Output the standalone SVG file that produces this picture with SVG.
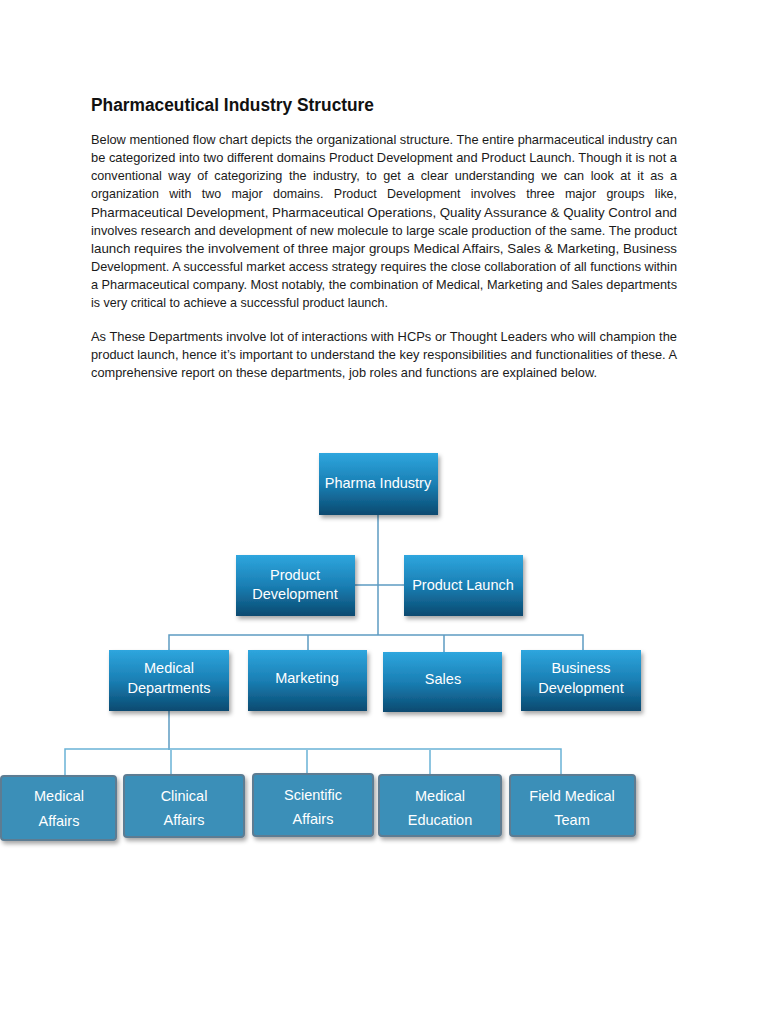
<svg xmlns="http://www.w3.org/2000/svg" width="768" height="1024" viewBox="0 0 768 1024">
<defs>
<linearGradient id="g" x1="0" y1="0" x2="0" y2="1">
<stop offset="0" stop-color="#2ea6de"/>
<stop offset="0.5" stop-color="#1a7fb4"/>
<stop offset="1" stop-color="#0a4a70"/>
</linearGradient>
<filter id="sh" x="-20%" y="-20%" width="150%" height="160%">
<feDropShadow dx="2" dy="3" stdDeviation="2" flood-color="#000" flood-opacity="0.35"/>
</filter>
</defs>
<style>
.body{font-family:"Liberation Sans",Arial,sans-serif;font-size:12.6px;fill:#1a1a1a}
.title{font-family:"Liberation Sans",Arial,sans-serif;font-size:18px;font-weight:bold;fill:#111}
.box{fill:url(#g);filter:url(#sh)}
.box2{fill:#3a8fb8;stroke:#5d7c92;stroke-width:2;filter:url(#sh)}
.lbl{font-family:"Liberation Sans",Arial,sans-serif;font-size:14.5px;fill:#fff;text-anchor:middle}
.ln{stroke:#5e9cc2;stroke-width:1.5;fill:none}
.ln2{stroke:#6ab2d6;stroke-width:1.5;fill:none}
</style>
<rect width="768" height="1024" fill="#fff"/>
<text class="title" x="91" y="111" textLength="283" lengthAdjust="spacingAndGlyphs">Pharmaceutical Industry Structure</text>
<g class="body">
<text x="91" y="144" textLength="586" lengthAdjust="spacingAndGlyphs">Below mentioned flow chart depicts the organizational structure. The entire pharmaceutical industry can</text>
<text x="91" y="162" textLength="586" lengthAdjust="spacingAndGlyphs">be categorized into two different domains Product Development and Product Launch. Though it is not a</text>
<text x="91" y="180" textLength="586" lengthAdjust="spacingAndGlyphs" word-spacing="3">conventional way of categorizing the industry, to get a clear understanding we can look at it as a</text>
<text x="91" y="198" textLength="586" lengthAdjust="spacingAndGlyphs" word-spacing="7">organization with two major domains. Product Development involves three major groups like,</text>
<text x="91" y="217" textLength="586" lengthAdjust="spacingAndGlyphs">Pharmaceutical Development, Pharmaceutical Operations, Quality Assurance &amp; Quality Control and</text>
<text x="91" y="235" textLength="586" lengthAdjust="spacingAndGlyphs">involves research and development of new molecule to large scale production of the same. The product</text>
<text x="91" y="253" textLength="586" lengthAdjust="spacingAndGlyphs">launch requires the involvement of three major groups Medical Affairs, Sales &amp; Marketing, Business</text>
<text x="91" y="271" textLength="586" lengthAdjust="spacingAndGlyphs">Development. A successful market access strategy requires the close collaboration of all functions within</text>
<text x="91" y="289" textLength="586" lengthAdjust="spacingAndGlyphs">a Pharmaceutical company. Most notably, the combination of Medical, Marketing and Sales departments</text>
<text x="91" y="307" textLength="297" lengthAdjust="spacingAndGlyphs">is very critical to achieve a successful product launch.</text>
<text x="91" y="341" textLength="586" lengthAdjust="spacingAndGlyphs">As These Departments involve lot of interactions with HCPs or Thought Leaders who will champion the</text>
<text x="91" y="359" textLength="586" lengthAdjust="spacingAndGlyphs">product launch, hence it’s important to understand the key responsibilities and functionalities of these. A</text>
<text x="91" y="377" textLength="506" lengthAdjust="spacingAndGlyphs">comprehensive report on these departments, job roles and functions are explained below.</text>
</g>
<g id="connectors">
<path class="ln" d="M378 515 V635 M355 585 H404 M169 650 V635 H583 V650 M308 635 V650 M444 635 V652 M169 711 V750"/>
<path class="ln2" d="M65 776 V749 H561 V776 M171 750 V778 M307 750 V780 M430 750 V776"/>
</g>
<g id="pharma-industry"><rect class="box" x="319" y="453" width="119" height="62"/><text class="lbl" x="378" y="488">Pharma Industry</text></g>
<g id="product-development"><rect class="box" x="236" y="555" width="119" height="61"/><text class="lbl" x="295" y="580">Product</text><text class="lbl" x="295" y="599">Development</text></g>
<g id="product-launch"><rect class="box" x="404" y="555" width="119" height="61"/><text class="lbl" x="463" y="590">Product Launch</text></g>
<g id="medical-departments"><rect class="box" x="109" y="650" width="120" height="61"/><text class="lbl" x="169" y="673">Medical</text><text class="lbl" x="169" y="693">Departments</text></g>
<g id="marketing"><rect class="box" x="248" y="650" width="119" height="61"/><text class="lbl" x="307" y="683">Marketing</text></g>
<g id="sales"><rect class="box" x="383" y="652" width="119" height="60"/><text class="lbl" x="443" y="684">Sales</text></g>
<g id="business-development"><rect class="box" x="521" y="650" width="120" height="61"/><text class="lbl" x="581" y="673">Business</text><text class="lbl" x="581" y="693">Development</text></g>
<g id="medical-affairs"><rect class="box2" x="1" y="776" width="115" height="64" rx="3"/><text class="lbl" x="59" y="801">Medical</text><text class="lbl" x="59" y="826">Affairs</text></g>
<g id="clinical-affairs"><rect class="box2" x="124" y="775" width="120" height="62" rx="3"/><text class="lbl" x="184" y="801">Clinical</text><text class="lbl" x="184" y="825">Affairs</text></g>
<g id="scientific-affairs"><rect class="box2" x="253" y="774" width="120" height="62" rx="3"/><text class="lbl" x="313" y="800">Scientific</text><text class="lbl" x="313" y="824">Affairs</text></g>
<g id="medical-education"><rect class="box2" x="379" y="775" width="122" height="61" rx="3"/><text class="lbl" x="440" y="801">Medical</text><text class="lbl" x="440" y="825">Education</text></g>
<g id="field-medical-team"><rect class="box2" x="510" y="775" width="125" height="61" rx="3"/><text class="lbl" x="572" y="801">Field Medical</text><text class="lbl" x="572" y="825">Team</text></g>
</svg>
